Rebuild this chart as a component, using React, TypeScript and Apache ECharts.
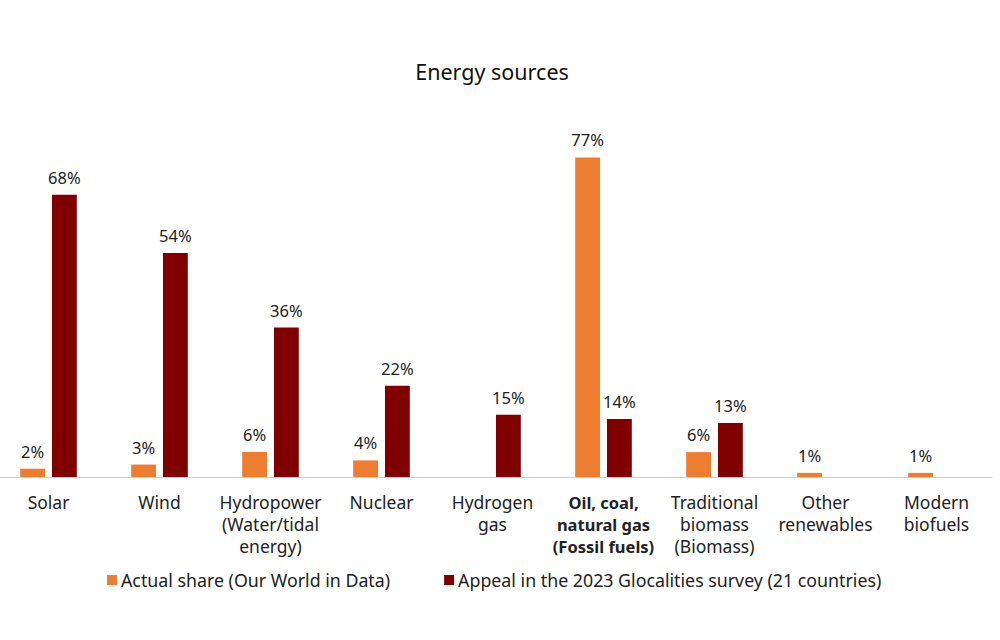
import React, { useEffect, useRef } from "react";
import * as echarts from "echarts";

const categories = [
  "Solar",
  "Wind",
  "Hydropower\n(Water/tidal\nenergy)",
  "Nuclear",
  "Hydrogen\ngas",
  "Oil, coal,\nnatural gas\n(Fossil fuels)",
  "Traditional\nbiomass\n(Biomass)",
  "Other\nrenewables",
  "Modern\nbiofuels",
];
const actualShare: (number | null)[] = [2, 3, 6, 4, null, 77, 6, 1, 1];
const appeal: (number | null)[] = [68, 54, 36, 22, 15, 14, 13, null, null];
const seriesNames = [
  "Actual share (Our World in Data)",
  "Appeal in the 2023 Glocalities survey (21 countries)",
];
const boldIndex = 5;

const FONT = "'Noto Sans', sans-serif";

export default function App() {
  const ref = useRef<HTMLDivElement>(null);
  useEffect(() => {
    document.body.style.margin = "0";
    document.body.style.overflow = "hidden";
    const chart = echarts.init(ref.current!, null, { renderer: "svg" });
    const labelCfg = {
      show: true,
      position: "top" as const,
      distance: 9,
      formatter: "{c}%",
      fontSize: 16.5,
      color: "#222",
      fontFamily: FONT,
    };
    chart.setOption({
      animation: false,
      backgroundColor: "#fff",
      textStyle: { fontFamily: FONT },
      title: {
        text: "Energy sources",
        left: 494,
        textAlign: "center",
        top: 55,
        textStyle: { fontSize: 21.5, fontWeight: "normal", color: "#111", fontFamily: FONT },
      },
      legend: {
        bottom: 46,
        left: 109,
        itemWidth: 10,
        itemHeight: 10,
        itemGap: 54,
        icon: "rect",
        textStyle: { fontSize: 17.8, color: "#222", fontFamily: FONT, padding: [0, 0, 0, -1] },
        data: seriesNames,
      },
      grid: { left: 0, right: 8, top: 145, bottom: 163, containLabel: false },
      xAxis: {
        type: "category",
        data: categories,
        axisLine: { lineStyle: { color: "#d0d0d0", width: 1 } },
        axisTick: { show: false },
        axisLabel: {
          interval: 0,
          margin: 14,
          fontSize: 17.5,
          lineHeight: 22,
          color: "#222",
          fontFamily: FONT,
          formatter: (v: string, i: number) =>
            i === boldIndex
              ? v
                  .split("\n")
                  .map((l) => `{b|${l}}`)
                  .join("\n")
              : v,
          rich: {
            b: { fontWeight: "bold", fontSize: 16.5, lineHeight: 22, color: "#222", fontFamily: FONT },
          },
        },
      },
      yAxis: {
        type: "value",
        min: 0,
        max: 80,
        show: false,
        splitLine: { show: false },
      },
      series: [
        {
          name: seriesNames[0],
          type: "bar",
          data: actualShare,
          itemStyle: { color: "#ED7D31" },
          barGap: "28%",
          barCategoryGap: "49%",
          label: labelCfg,
        },
        {
          name: seriesNames[1],
          type: "bar",
          data: appeal,
          itemStyle: { color: "#800000" },
          barGap: "28%",
          barCategoryGap: "49%",
          label: labelCfg,
        },
      ],
    });
    return () => chart.dispose();
  }, []);
  return (
    <div
      ref={ref}
      style={{ position: "absolute", left: -7, top: 0, width: 1007, height: 640 }}
    />
  );
}
